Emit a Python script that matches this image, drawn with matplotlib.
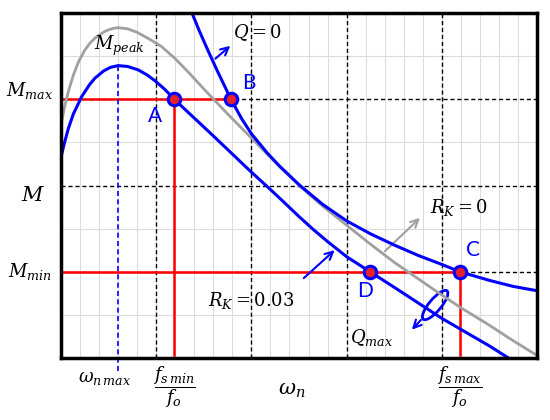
import matplotlib
matplotlib.use("Agg")
import matplotlib.pyplot as plt
from matplotlib.patches import Ellipse
from matplotlib.transforms import ScaledTranslation

plt.rcParams['mathtext.fontset'] = 'dejavuserif'

# curves (x = normalised frequency grid units, y = gain grid units)
qmax_x = [0, 0.04, 0.077, 0.13, 0.217, 0.3, 0.357, 0.45, 0.52, 0.6, 0.7, 0.812, 0.9, 0.987,
          1.09, 1.19, 1.3, 1.46, 1.6, 1.8, 1.985, 2.164, 2.3, 2.5, 2.65, 2.8, 3.0, 3.246,
          3.5, 3.75, 4.0, 4.25, 4.5, 4.7]
qmax_y = [2.33, 2.51, 2.66, 2.83, 3.03, 3.17, 3.245, 3.33, 3.37, 3.39, 3.38, 3.34, 3.285, 3.215,
          3.115, 3.0, 2.885, 2.72, 2.575, 2.365, 2.17, 1.99, 1.85, 1.64, 1.49, 1.35, 1.175, 1.0,
          0.82, 0.64, 0.46, 0.30, 0.14, 0.0]

rk0_x = [0, 0.04, 0.077, 0.13, 0.182, 0.25, 0.3, 0.357, 0.45, 0.5, 0.55, 0.6, 0.7, 0.8, 0.9,
         1.0, 1.057, 1.2, 1.35, 1.5, 1.586, 1.75, 2.0, 2.25, 2.51, 2.75, 3.0, 3.25, 3.5, 3.75,
         4.0, 4.19, 4.5, 4.75, 5.0]
rk0_y = [2.70, 2.92, 3.09, 3.28, 3.43, 3.57, 3.645, 3.71, 3.78, 3.805, 3.822, 3.83, 3.816, 3.776,
         3.715, 3.65, 3.61, 3.47, 3.30, 3.12, 3.02, 2.83, 2.55, 2.27, 1.99, 1.76, 1.54, 1.32,
         1.11, 0.92, 0.73, 0.59, 0.38, 0.20, 0.03]

q0_x = [1.376, 1.45, 1.55, 1.65, 1.785, 1.9, 2.0, 2.164, 2.3, 2.51, 2.75, 3.0, 3.25, 3.5,
        3.75, 4.0, 4.19, 4.5, 4.75, 5.0]
q0_y = [4.0, 3.80, 3.55, 3.31, 3.0, 2.77, 2.60, 2.38, 2.22, 2.0, 1.78, 1.59, 1.44, 1.31,
        1.19, 1.085, 1.0, 0.9, 0.83, 0.78]

m_max = 3.0
m_min = 1.0
w_peak = 0.6
m_peak = 3.39
points = {'A': (1.19, 3.0), 'B': (1.785, 3.0), 'C': (4.19, 1.0), 'D': (3.246, 1.0)}

blue = '#0000ff'
grey = '#a0a0a0'
red = '#ff0000'

fig = plt.figure(figsize=(5.5, 4.2), dpi=100)
ax = fig.add_axes([61 / 550, 62 / 420, 476 / 550, 345 / 420])
ax.set_xlim(0, 5)
ax.set_ylim(0, 4)

# grid
for v in [i * 0.2 for i in range(1, 25)]:
    ax.axvline(v, color='#dcdcdc', lw=0.8, zorder=0)
for v in [0.5, 1.5, 2.5, 3.5]:
    ax.axhline(v, color='#dcdcdc', lw=0.8, zorder=0)
for v in [1, 2, 3, 4]:
    ax.axvline(v, color='black', lw=1, ls=(0, (3, 2)), zorder=1)
for v in [1, 2, 3]:
    ax.axhline(v, color='black', lw=1, ls=(0, (3, 2)), zorder=1)

# operating limits
ax.plot([0, points['B'][0]], [m_max, m_max], color=red, lw=1.8, zorder=2)
ax.plot([0, points['C'][0]], [m_min, m_min], color=red, lw=1.8, zorder=2)
ax.plot([points['A'][0]] * 2, [m_max, 0.035], color=red, lw=1.8, zorder=2)
ax.plot([points['C'][0]] * 2, [m_min, 0.035], color=red, lw=1.8, zorder=2)
ax.plot([w_peak, w_peak], [m_peak, -0.17], color=blue, lw=1.2, ls=(0, (3, 2)),
        clip_on=False, zorder=2)

# gain curves
ax.plot(rk0_x, rk0_y, color=grey, lw=2, zorder=3)
ax.plot(qmax_x, qmax_y, color=blue, lw=2.2, zorder=4)
ax.plot(q0_x, q0_y, color=blue, lw=2.2, zorder=4)

for name, (px, py) in points.items():
    ax.plot(px, py, 'o', ms=9, mfc='#e8202a', mec=blue, mew=2.2, zorder=6)

letter_pos = {'A': (0.99, 2.81), 'B': (1.975, 3.19), 'C': (4.33, 1.25), 'D': (3.19, 0.78)}
for name, (tx, ty) in letter_pos.items():
    ax.text(tx, ty, name, color=blue, fontsize=15, family='Lato', ha='center', va='center')

# arrows
arr = dict(arrowstyle='->', lw=1.5, mutation_scale=14)
ax.annotate('', xy=(1.8, 3.64), xytext=(1.6, 3.45), arrowprops=dict(arr, color=blue))
ax.annotate('', xy=(2.896, 1.272), xytext=(2.528, 0.904), arrowprops=dict(arr, color=blue))
ax.annotate('', xy=(3.792, 1.646), xytext=(3.382, 1.217), arrowprops=dict(arr, color=grey))
ax.annotate('', xy=(3.666, 0.305), xytext=(3.8, 0.464), arrowprops=dict(arr, color=blue))

ell = Ellipse((0, 0), 0.37, 0.12, angle=50, fill=False, ec=blue, lw=2,
              transform=fig.dpi_scale_trans + ScaledTranslation(3.93, 0.614, ax.transData))
ax.add_patch(ell)

# labels
ax.text(1.81, 3.77, r'$Q=0$', fontsize=13, va='center')
ax.text(0.61, 3.62, r'$M_{peak}$', fontsize=13, ha='center', va='center')
ax.text(1.544, 0.672, r'$R_K=0.03$', fontsize=13, va='center')
ax.text(3.876, 1.75, r'$R_K=0$', fontsize=13, va='center')
ax.text(3.036, 0.243, r'$Q_{max}$', fontsize=13, va='center')

ax.text(-0.084, 3.1, r'$M_{max}$', fontsize=13, ha='right', va='center', clip_on=False)
ax.text(-0.29, 1.89, r'$M$', fontsize=15, ha='center', va='center', clip_on=False)
ax.text(-0.095, 1.0, r'$M_{min}$', fontsize=13, ha='right', va='center', clip_on=False)
ax.text(0.457, -0.23, r'$\omega_{n\,max}$', fontsize=13, ha='center', va='center')
ax.text(1.187, -0.336, r'$\dfrac{f_{s\,min}}{f_o}$', fontsize=13, ha='center', va='center')
ax.text(2.42, -0.37, r'$\omega_n$', fontsize=15, ha='center', va='center')
ax.text(4.19, -0.336, r'$\dfrac{f_{s\,max}}{f_o}$', fontsize=13, ha='center', va='center')

ax.set_xticks([])
ax.set_yticks([])
for s in ax.spines.values():
    s.set_linewidth(2.5)
    s.set_zorder(10)

fig.savefig('out.png', dpi=100)
